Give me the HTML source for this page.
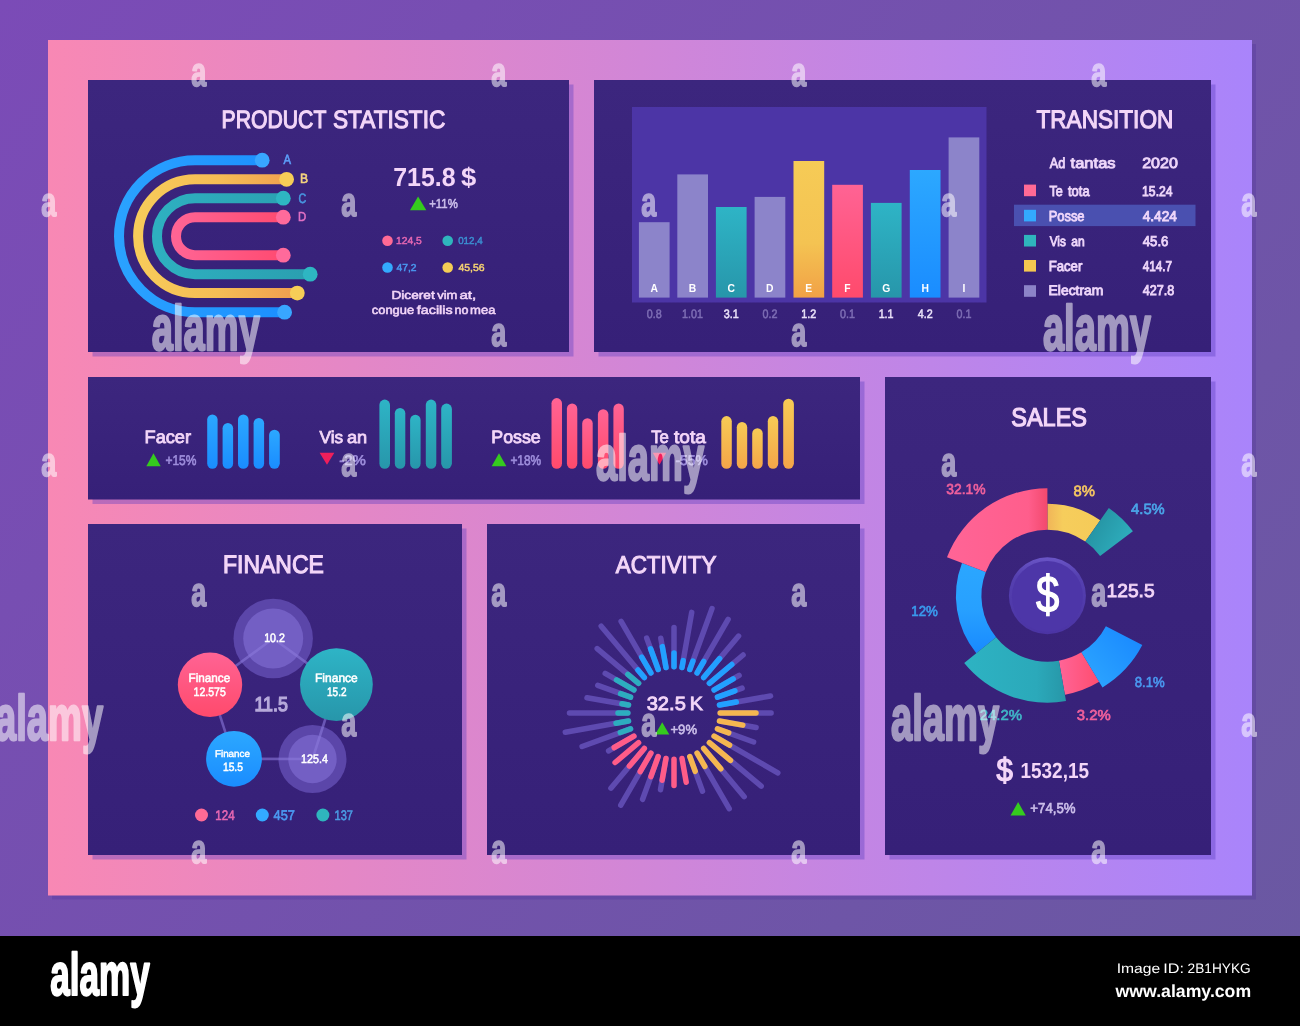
<!DOCTYPE html>
<html><head><meta charset="utf-8"><title>Dashboard</title>
<style>html,body{margin:0;padding:0;background:#000;}svg{display:block;}text{font-family:"Liberation Sans",sans-serif;white-space:pre;text-rendering:geometricPrecision;}</style>
</head><body>
<svg width="1300" height="1026" viewBox="0 0 1300 1026">
<defs>
<linearGradient id="bg" x1="0" y1="0" x2="1.139" y2="0.694"><stop offset="0" stop-color="#7B4BB7"/><stop offset="1" stop-color="#6A58A2"/></linearGradient>
<linearGradient id="frame" x1="0" y1="0" x2="1" y2="0"><stop offset="0" stop-color="#F888B4"/><stop offset="1" stop-color="#A984FB"/></linearGradient>
<linearGradient id="panel" x1="0" y1="0" x2="0" y2="1"><stop offset="0" stop-color="#3C267E"/><stop offset="1" stop-color="#362078"/></linearGradient>
<linearGradient id="gBlueV" x1="0" y1="0" x2="0" y2="1"><stop offset="0" stop-color="#2CA8FF"/><stop offset="1" stop-color="#1A8CFF"/></linearGradient>
<linearGradient id="gTealV" x1="0" y1="0" x2="0" y2="1"><stop offset="0" stop-color="#2EB4C6"/><stop offset="1" stop-color="#2796AA"/></linearGradient>
<linearGradient id="gPinkV" x1="0" y1="0" x2="0" y2="1"><stop offset="0" stop-color="#FF6394"/><stop offset="1" stop-color="#FF4A6C"/></linearGradient>
<linearGradient id="gYelV" x1="0" y1="0" x2="0" y2="1"><stop offset="0" stop-color="#F6CB56"/><stop offset="0.6" stop-color="#F4C352"/><stop offset="1" stop-color="#F1A146"/></linearGradient>
<linearGradient id="gYelV2" x1="0" y1="0" x2="0" y2="1"><stop offset="0" stop-color="#F7CB55"/><stop offset="1" stop-color="#F4A549"/></linearGradient>
<linearGradient id="gBlueH" gradientUnits="userSpaceOnUse" x1="119" y1="0" x2="290" y2="0"><stop offset="0" stop-color="#2AA2FF"/><stop offset="1" stop-color="#1B8EFF"/></linearGradient>
<linearGradient id="gYelH" gradientUnits="userSpaceOnUse" x1="138" y1="0" x2="300" y2="0"><stop offset="0" stop-color="#F7CB5A"/><stop offset="0.5" stop-color="#F5BD55"/><stop offset="1" stop-color="#F09C4F"/></linearGradient>
<linearGradient id="gTealH" gradientUnits="userSpaceOnUse" x1="157" y1="0" x2="310" y2="0"><stop offset="0" stop-color="#2EB0C0"/><stop offset="1" stop-color="#2A9FB0"/></linearGradient>
<linearGradient id="gPinkH" gradientUnits="userSpaceOnUse" x1="176" y1="0" x2="285" y2="0"><stop offset="0" stop-color="#FF6494"/><stop offset="1" stop-color="#FF4A70"/></linearGradient>
<linearGradient id="btn" x1="0" y1="0" x2="0" y2="1"><stop offset="0" stop-color="#6A55C6"/><stop offset="0.25" stop-color="#5540B0"/><stop offset="1" stop-color="#4B34A4"/></linearGradient>
</defs>
<filter id="nf" filterUnits="userSpaceOnUse" x="0" y="0" width="1300" height="1026" color-interpolation-filters="sRGB"><feOffset dx="0" dy="0"/></filter>
<g filter="url(#nf)">
<rect width="1300" height="1026" fill="url(#bg)"/>
<rect x="52" y="44" width="1204" height="855.5" fill="#4a2e9a" opacity="0.28"/>
<rect x="48" y="40" width="1204" height="855.5" fill="url(#frame)"/>
<rect x="0" y="936" width="1300" height="90" fill="#000"/>
<rect x="92.5" y="84.5" width="481" height="272" fill="#5a3cc0" opacity="0.38"/>
<rect x="598.5" y="84.5" width="617" height="272" fill="#5a3cc0" opacity="0.38"/>
<rect x="92.5" y="381.5" width="772" height="122.5" fill="#5a3cc0" opacity="0.38"/>
<rect x="92.5" y="528.5" width="374" height="331" fill="#5a3cc0" opacity="0.38"/>
<rect x="491.5" y="528.5" width="373" height="331" fill="#5a3cc0" opacity="0.38"/>
<rect x="889.5" y="381.5" width="326" height="478" fill="#5a3cc0" opacity="0.38"/>
<rect x="88" y="80" width="481" height="272" fill="url(#panel)"/>
<rect x="594" y="80" width="617" height="272" fill="url(#panel)"/>
<rect x="88" y="377" width="772" height="122.5" fill="url(#panel)"/>
<rect x="88" y="524" width="374" height="331" fill="url(#panel)"/>
<rect x="487" y="524" width="373" height="331" fill="url(#panel)"/>
<rect x="885" y="377" width="326" height="478" fill="url(#panel)"/>
<text transform="translate(221.60 128.10) scale(0.8431 1)" font-size="25.14" fill="#F3D6F8" stroke="#F3D6F8" stroke-width="1.13">PRODUCT</text>
<text transform="translate(332.98 128.10) scale(0.9006 1)" font-size="25.14" fill="#F3D6F8" stroke="#F3D6F8" stroke-width="1.13">STATISTIC</text>
<path d="M262.2 160.2 L195 160.2 A76 76 0 0 0 195 312.2 L284.6 312.2" fill="none" stroke="url(#gBlueH)" stroke-width="10"/>
<circle cx="262.2" cy="160.2" r="7.4" fill="#38A6FF"/>
<circle cx="284.6" cy="312.2" r="7.4" fill="#38A6FF"/>
<path d="M286.6 179.3 L195 179.3 A56.9 56.9 0 0 0 195 293.1 L297.3 293.1" fill="none" stroke="url(#gYelH)" stroke-width="10"/>
<circle cx="286.6" cy="179.3" r="7.4" fill="#F6CD57"/>
<circle cx="297.3" cy="293.1" r="7.4" fill="#F6CD57"/>
<path d="M283.3 198.2 L195 198.2 A38 38 0 0 0 195 274.2 L310.2 274.2" fill="none" stroke="url(#gTealH)" stroke-width="10"/>
<circle cx="283.3" cy="198.2" r="7.4" fill="#2EB6C2"/>
<circle cx="310.2" cy="274.2" r="7.4" fill="#2EB6C2"/>
<path d="M283.3 217.2 L195 217.2 A19 19 0 0 0 195 255.2 L283.3 255.2" fill="none" stroke="url(#gPinkH)" stroke-width="10"/>
<circle cx="283.3" cy="217.2" r="7.4" fill="#FF6A9B"/>
<circle cx="283.3" cy="255.2" r="7.4" fill="#FF6A9B"/>
<text transform="translate(283.50 164.00) scale(0.8459 1)" font-size="13.33" fill="#5C9EFA" stroke="#5C9EFA" stroke-width="0.60">A</text>
<text transform="translate(300.03 183.20) scale(0.9112 1)" font-size="13.33" fill="#F5D47E" stroke="#F5D47E" stroke-width="0.60">B</text>
<text transform="translate(298.46 203.00) scale(0.7891 1)" font-size="13.57" fill="#4896E0" stroke="#4896E0" stroke-width="0.61">C</text>
<text transform="translate(298.09 221.00) scale(0.8762 1)" font-size="13.04" fill="#E070C4" stroke="#E070C4" stroke-width="0.59">D</text>
<text transform="translate(393.20 186.00) scale(0.9546 1)" font-size="26.08" font-weight="bold" fill="#F3D6F8">715.8</text>
<text transform="translate(460.99 186.00) scale(1.0517 1)" font-size="26.08" font-weight="bold" fill="#F3D6F8">$</text>
<path d="M410.0 210.2 L418.1 196.5 L426.3 210.2 Z" fill="#35CB1E"/>
<text transform="translate(429.23 207.90) scale(0.8692 1)" font-size="13.09" fill="#CBBEEA" stroke="#CBBEEA" stroke-width="0.59">+11%</text>
<circle cx="387.5" cy="240.7" r="5.3" fill="#FF6A95"/>
<circle cx="447.7" cy="240.7" r="5.3" fill="#2FB5BD"/>
<circle cx="387.5" cy="267.5" r="5.3" fill="#33AAFF"/>
<circle cx="447.7" cy="267.5" r="5.3" fill="#F5CD55"/>
<text transform="translate(396.03 244.30) scale(1.0169 1)" font-size="10.14" fill="#E667B2" stroke="#E667B2" stroke-width="0.46">124,5</text>
<text transform="translate(458.21 244.30) scale(0.9616 1)" font-size="10.14" fill="#3B90D2" stroke="#3B90D2" stroke-width="0.46">012,4</text>
<text transform="translate(396.59 271.10) scale(1.0148 1)" font-size="10.14" fill="#4A98F0" stroke="#4A98F0" stroke-width="0.46">47,2</text>
<text transform="translate(458.39 271.10) scale(1.0344 1)" font-size="10.14" fill="#F5D272" stroke="#F5D272" stroke-width="0.46">45,56</text>
<text transform="translate(391.41 298.80) scale(1.1798 1)" font-size="11.59" fill="#F3D6F8" stroke="#F3D6F8" stroke-width="0.52">Diceret</text>
<text transform="translate(437.14 298.80) scale(1.1217 1)" font-size="11.59" fill="#F3D6F8" stroke="#F3D6F8" stroke-width="0.52">vim</text>
<text transform="translate(459.39 298.80) scale(1.3056 1)" font-size="11.59" fill="#F3D6F8" stroke="#F3D6F8" stroke-width="0.52">at,</text>
<text transform="translate(371.78 314.00) scale(1.0871 1)" font-size="11.86" fill="#F3D6F8" stroke="#F3D6F8" stroke-width="0.53">congue</text>
<text transform="translate(416.79 314.00) scale(1.2078 1)" font-size="11.86" fill="#F3D6F8" stroke="#F3D6F8" stroke-width="0.53">facilis</text>
<text transform="translate(454.49 314.00) scale(1.0569 1)" font-size="11.86" fill="#F3D6F8" stroke="#F3D6F8" stroke-width="0.53">no</text>
<text transform="translate(470.05 314.00) scale(1.0986 1)" font-size="11.86" fill="#F3D6F8" stroke="#F3D6F8" stroke-width="0.53">mea</text>
<rect x="632" y="107" width="354.5" height="195.5" fill="#4C35A6"/>
<rect x="638.9" y="222.2" width="30.7" height="75.4" fill="#8C84CA"/>
<text transform="translate(650.52 292.30) scale(0.8927 1)" font-size="11.59" font-weight="bold" fill="#FFFFFF">A</text>
<text transform="translate(646.79 318.20) scale(0.8739 1)" font-size="12.29" fill="#7D6DB4" stroke="#7D6DB4" stroke-width="0.55">0.8</text>
<rect x="677.3" y="174.4" width="30.7" height="123.2" fill="#8C84CA"/>
<text transform="translate(688.82 292.30) scale(0.8927 1)" font-size="11.59" font-weight="bold" fill="#FFFFFF">B</text>
<text transform="translate(682.05 318.20) scale(0.8739 1)" font-size="12.29" fill="#7D6DB4" stroke="#7D6DB4" stroke-width="0.55">1.01</text>
<rect x="715.9" y="207" width="30.7" height="90.6" fill="url(#gTealV)"/>
<text transform="translate(727.45 292.30) scale(0.9056 1)" font-size="11.43" font-weight="bold" fill="#FFFFFF">C</text>
<text transform="translate(723.82 318.20) scale(0.8739 1)" font-size="12.29" fill="#E9E0F8" stroke="#E9E0F8" stroke-width="0.55">3.1</text>
<rect x="754.6" y="196.9" width="30.7" height="100.7" fill="#8C84CA"/>
<text transform="translate(766.09 292.30) scale(0.8927 1)" font-size="11.59" font-weight="bold" fill="#FFFFFF">D</text>
<text transform="translate(762.54 318.20) scale(0.8739 1)" font-size="12.29" fill="#7D6DB4" stroke="#7D6DB4" stroke-width="0.55">0.2</text>
<rect x="793.5" y="161" width="30.7" height="136.6" fill="url(#gYelV)"/>
<text transform="translate(805.25 292.30) scale(0.8927 1)" font-size="11.59" font-weight="bold" fill="#FFFFFF">E</text>
<text transform="translate(801.25 318.20) scale(0.8739 1)" font-size="12.29" fill="#E9E0F8" stroke="#E9E0F8" stroke-width="0.55">1.2</text>
<rect x="832.2" y="184.8" width="30.7" height="112.8" fill="url(#gPinkV)"/>
<text transform="translate(844.24 292.30) scale(0.8927 1)" font-size="11.59" font-weight="bold" fill="#FFFFFF">F</text>
<text transform="translate(840.12 318.20) scale(0.8739 1)" font-size="12.29" fill="#7D6DB4" stroke="#7D6DB4" stroke-width="0.55">0.1</text>
<rect x="870.9" y="202.9" width="30.7" height="94.7" fill="url(#gTealV)"/>
<text transform="translate(882.34 292.30) scale(0.9056 1)" font-size="11.43" font-weight="bold" fill="#FFFFFF">G</text>
<text transform="translate(878.63 318.20) scale(0.8614 1)" font-size="12.46" fill="#E9E0F8" stroke="#E9E0F8" stroke-width="0.56">1.1</text>
<rect x="909.8" y="170" width="30.7" height="127.6" fill="url(#gBlueV)"/>
<text transform="translate(921.42 292.30) scale(0.8927 1)" font-size="11.59" font-weight="bold" fill="#FFFFFF">H</text>
<text transform="translate(917.85 318.20) scale(0.8739 1)" font-size="12.29" fill="#E9E0F8" stroke="#E9E0F8" stroke-width="0.55">4.2</text>
<rect x="948.6" y="137.4" width="30.7" height="160.2" fill="#8C84CA"/>
<text transform="translate(962.53 292.30) scale(0.8927 1)" font-size="11.59" font-weight="bold" fill="#FFFFFF">I</text>
<text transform="translate(956.52 318.20) scale(0.8739 1)" font-size="12.29" fill="#7D6DB4" stroke="#7D6DB4" stroke-width="0.55">0.1</text>
<text transform="translate(1036.45 128.20) scale(0.8889 1)" font-size="25.43" fill="#F3D6F8" stroke="#F3D6F8" stroke-width="1.14">TRANSITION</text>
<text transform="translate(1049.70 167.60) scale(0.8565 1)" font-size="14.76" fill="#EED6FA" stroke="#EED6FA" stroke-width="0.85">Ad</text>
<text transform="translate(1070.55 167.60) scale(1.1221 1)" font-size="14.76" fill="#EED6FA" stroke="#EED6FA" stroke-width="0.85">tantas</text>
<text transform="translate(1142.20 167.60) scale(1.0788 1)" font-size="14.86" fill="#EED6FA" stroke="#EED6FA" stroke-width="0.85">2020</text>
<rect x="1014" y="204.7" width="181.5" height="21.4" fill="#4A50B0"/>
<rect x="1024" y="184.6" width="12" height="11.6" fill="#FF6A95"/>
<text transform="translate(1049.45 196.10) scale(0.8712 1)" font-size="14.49" fill="#EED6FA" stroke="#EED6FA" stroke-width="0.85">Te</text>
<text transform="translate(1068.01 196.10) scale(0.8949 1)" font-size="14.49" fill="#EED6FA" stroke="#EED6FA" stroke-width="0.85">tota</text>
<text transform="translate(1142.09 196.10) scale(0.8621 1)" font-size="14.14" fill="#EED6FA" stroke="#EED6FA" stroke-width="0.85">15.24</text>
<rect x="1024" y="209.8" width="12" height="11.6" fill="#33AAFF"/>
<text transform="translate(1048.67 220.90) scale(0.8914 1)" font-size="14.49" fill="#EED6FA" stroke="#EED6FA" stroke-width="0.85">Posse</text>
<text transform="translate(1142.73 220.90) scale(0.9668 1)" font-size="14.14" fill="#EED6FA" stroke="#EED6FA" stroke-width="0.85">4.424</text>
<rect x="1024" y="234.9" width="12" height="11.6" fill="#2FB5BD"/>
<text transform="translate(1049.64 245.70) scale(0.8558 1)" font-size="13.79" fill="#EED6FA" stroke="#EED6FA" stroke-width="0.85">Vis</text>
<text transform="translate(1071.31 245.70) scale(0.8801 1)" font-size="13.79" fill="#EED6FA" stroke="#EED6FA" stroke-width="0.85">an</text>
<text transform="translate(1142.74 245.70) scale(0.9340 1)" font-size="14.14" fill="#EED6FA" stroke="#EED6FA" stroke-width="0.85">45.6</text>
<rect x="1024" y="260.0" width="12" height="11.6" fill="#F5C850"/>
<text transform="translate(1048.65 270.50) scale(0.9088 1)" font-size="14.49" fill="#EED6FA" stroke="#EED6FA" stroke-width="0.85">Facer</text>
<text transform="translate(1142.77 270.50) scale(0.8174 1)" font-size="14.35" fill="#EED6FA" stroke="#EED6FA" stroke-width="0.85">414.7</text>
<rect x="1024" y="285.2" width="12" height="11.6" fill="#8C84C8"/>
<text transform="translate(1048.59 295.30) scale(1.0074 1)" font-size="13.79" fill="#EED6FA" stroke="#EED6FA" stroke-width="0.85">Electram</text>
<text transform="translate(1142.75 295.30) scale(0.8896 1)" font-size="14.14" fill="#EED6FA" stroke="#EED6FA" stroke-width="0.85">427.8</text>
<text transform="translate(144.54 443.20) scale(1.0134 1)" font-size="17.97" fill="#F3D6F8" stroke="#F3D6F8" stroke-width="0.81">Facer</text>
<path d="M146.3 466.3 L153.5 453.3 L160.7 466.3 Z" fill="#35CB1E"/>
<text transform="translate(165.40 464.80) scale(0.8510 1)" font-size="14.10" fill="#9E8EDC" stroke="#9E8EDC" stroke-width="0.63">+15%</text>
<rect x="207.2" y="414.4" width="10.4" height="54.3" rx="5.20" fill="url(#gBlueV)"/>
<rect x="222.6" y="422.9" width="10.5" height="45.8" rx="5.25" fill="url(#gBlueV)"/>
<rect x="238.0" y="414.4" width="10.6" height="54.3" rx="5.30" fill="url(#gBlueV)"/>
<rect x="253.6" y="418.0" width="10.5" height="50.7" rx="5.25" fill="url(#gBlueV)"/>
<rect x="269.1" y="429.7" width="10.7" height="39.0" rx="5.35" fill="url(#gBlueV)"/>
<text transform="translate(319.51 443.20) scale(1.0067 1)" font-size="17.10" fill="#F3D6F8" stroke="#F3D6F8" stroke-width="0.77">Vis</text>
<text transform="translate(346.97 443.20) scale(1.0646 1)" font-size="17.10" fill="#F3D6F8" stroke="#F3D6F8" stroke-width="0.77">an</text>
<path d="M319.6 452.7 L334.3 452.7 L327.0 464.8 Z" fill="#F01F5B"/>
<text transform="translate(339.33 464.80) scale(1.0672 1)" font-size="14.00" fill="#9E8EDC" stroke="#9E8EDC" stroke-width="0.63">-2%</text>
<rect x="379.4" y="399.6" width="10.6" height="69.1" rx="5.30" fill="url(#gTealV)"/>
<rect x="394.8" y="407.9" width="10.5" height="60.8" rx="5.25" fill="url(#gTealV)"/>
<rect x="410.1" y="414.8" width="10.5" height="53.9" rx="5.25" fill="url(#gTealV)"/>
<rect x="425.8" y="399.6" width="10.5" height="69.1" rx="5.25" fill="url(#gTealV)"/>
<rect x="441.2" y="403.6" width="10.7" height="65.1" rx="5.35" fill="url(#gTealV)"/>
<text transform="translate(491.27 443.20) scale(0.9913 1)" font-size="17.97" fill="#F3D6F8" stroke="#F3D6F8" stroke-width="0.81">Posse</text>
<path d="M491.7 466.3 L499.0 453.3 L506.4 466.3 Z" fill="#35CB1E"/>
<text transform="translate(510.40 464.80) scale(0.8514 1)" font-size="14.00" fill="#9E8EDC" stroke="#9E8EDC" stroke-width="0.63">+18%</text>
<rect x="551.5" y="398.1" width="10.5" height="70.6" rx="5.25" fill="url(#gPinkV)"/>
<rect x="566.9" y="403.6" width="10.4" height="65.1" rx="5.20" fill="url(#gPinkV)"/>
<rect x="582.2" y="418.3" width="10.5" height="50.4" rx="5.25" fill="url(#gPinkV)"/>
<rect x="597.9" y="409.2" width="10.5" height="59.5" rx="5.25" fill="url(#gPinkV)"/>
<rect x="613.4" y="403.6" width="10.4" height="65.1" rx="5.20" fill="url(#gPinkV)"/>
<text transform="translate(651.16 443.20) scale(0.9330 1)" font-size="17.97" fill="#F3D6F8" stroke="#F3D6F8" stroke-width="0.81">Te</text>
<text transform="translate(674.01 443.20) scale(1.0623 1)" font-size="17.97" fill="#F3D6F8" stroke="#F3D6F8" stroke-width="0.81">tota</text>
<path d="M652.8 452.7 L666.2 452.7 L659.5 464.8 Z" fill="#F01F5B"/>
<text transform="translate(675.38 464.80) scale(0.9844 1)" font-size="14.10" fill="#9E8EDC" stroke="#9E8EDC" stroke-width="0.63">-55%</text>
<rect x="721.3" y="416.1" width="10.5" height="52.6" rx="5.25" fill="url(#gYelV2)"/>
<rect x="736.8" y="422.0" width="10.4" height="46.7" rx="5.20" fill="url(#gYelV2)"/>
<rect x="752.2" y="428.2" width="10.5" height="40.5" rx="5.25" fill="url(#gYelV2)"/>
<rect x="767.8" y="416.1" width="10.4" height="52.6" rx="5.20" fill="url(#gYelV2)"/>
<rect x="783.2" y="398.7" width="10.7" height="70.0" rx="5.35" fill="url(#gYelV2)"/>
<text transform="translate(223.06 573.00) scale(0.9027 1)" font-size="25.43" fill="#F3D6F8" stroke="#F3D6F8" stroke-width="1.14">FINANCE</text>
<circle cx="273.2" cy="638.5" r="39.7" fill="#5B46A9"/>
<circle cx="312.5" cy="759" r="34" fill="#5B46A9"/>
<circle cx="273.2" cy="638.5" r="30" fill="#735FC4"/>
<circle cx="312.5" cy="759" r="24.2" fill="#735FC4"/>
<line x1="273.2" y1="638.5" x2="210" y2="684.8" stroke="#8B78DA" stroke-opacity="0.6" stroke-width="2.6"/>
<line x1="273.2" y1="638.5" x2="336.4" y2="684.6" stroke="#8B78DA" stroke-opacity="0.6" stroke-width="2.6"/>
<line x1="210" y1="684.8" x2="234" y2="758.8" stroke="#8B78DA" stroke-opacity="0.6" stroke-width="2.6"/>
<line x1="336.4" y1="684.6" x2="312.5" y2="759" stroke="#8B78DA" stroke-opacity="0.6" stroke-width="2.6"/>
<line x1="234" y1="758.8" x2="312.5" y2="759" stroke="#8B78DA" stroke-opacity="0.6" stroke-width="2.6"/>
<circle cx="210" cy="684.8" r="32.2" fill="url(#gPinkV)"/>
<circle cx="336.4" cy="684.6" r="36.4" fill="url(#gTealV)"/>
<circle cx="234" cy="758.8" r="27.9" fill="url(#gBlueV)"/>
<text transform="translate(264.20 642.20) scale(0.8631 1)" font-size="12.29" fill="#FFFFFF" stroke="#FFFFFF" stroke-width="0.55">10.2</text>
<text transform="translate(188.46 681.80) scale(0.9680 1)" font-size="12.14" fill="#FFFFFF" stroke="#FFFFFF" stroke-width="0.55">Finance</text>
<text transform="translate(193.51 696.40) scale(0.8596 1)" font-size="12.29" fill="#FFFFFF" stroke="#FFFFFF" stroke-width="0.55">12.575</text>
<text transform="translate(315.04 681.80) scale(0.9896 1)" font-size="12.14" fill="#FFFFFF" stroke="#FFFFFF" stroke-width="0.55">Finance</text>
<text transform="translate(327.05 696.40) scale(0.8140 1)" font-size="12.29" fill="#FFFFFF" stroke="#FFFFFF" stroke-width="0.55">15.2</text>
<text transform="translate(214.91 756.90) scale(1.0092 1)" font-size="9.79" fill="#FFFFFF" stroke="#FFFFFF" stroke-width="0.44">Finance</text>
<text transform="translate(222.93 771.40) scale(0.8645 1)" font-size="11.88" fill="#FFFFFF" stroke="#FFFFFF" stroke-width="0.53">15.5</text>
<text transform="translate(301.10 762.90) scale(0.8734 1)" font-size="12.29" fill="#FFFFFF" stroke="#FFFFFF" stroke-width="0.55">125.4</text>
<text transform="translate(254.46 710.80) scale(0.8790 1)" font-size="20.29" fill="#B6A9DA" stroke="#B6A9DA" stroke-width="1.30">11.5</text>
<circle cx="201.5" cy="815" r="6.5" fill="#FF6A95"/>
<circle cx="262.3" cy="815" r="6.5" fill="#33AAFF"/>
<circle cx="322.9" cy="815" r="6.5" fill="#2FB5BD"/>
<text transform="translate(215.33 819.60) scale(0.8327 1)" font-size="13.86" fill="#E667B2" stroke="#E667B2" stroke-width="0.62">124</text>
<text transform="translate(273.54 819.60) scale(0.9098 1)" font-size="14.06" fill="#4A98F0" stroke="#4A98F0" stroke-width="0.63">457</text>
<text transform="translate(334.58 819.60) scale(0.7919 1)" font-size="13.86" fill="#4A9AE2" stroke="#4A9AE2" stroke-width="0.62">137</text>
<text transform="translate(615.70 573.00) scale(0.9165 1)" font-size="24.43" fill="#F3D6F8" stroke="#F3D6F8" stroke-width="1.10">ACTIVITY</text>
<line x1="720.2" y1="713.0" x2="771.1" y2="713.0" stroke="#5E4AB0" stroke-width="5.5" stroke-linecap="round"/>
<line x1="719.5" y1="705.0" x2="770.5" y2="696.0" stroke="#5E4AB0" stroke-width="5.5" stroke-linecap="round"/>
<line x1="717.5" y1="697.2" x2="742.1" y2="688.2" stroke="#5E4AB0" stroke-width="5.5" stroke-linecap="round"/>
<line x1="714.1" y1="689.9" x2="739.1" y2="675.4" stroke="#5E4AB0" stroke-width="5.5" stroke-linecap="round"/>
<line x1="709.4" y1="683.3" x2="743.1" y2="655.0" stroke="#5E4AB0" stroke-width="5.5" stroke-linecap="round"/>
<line x1="703.7" y1="677.6" x2="738.6" y2="636.1" stroke="#5E4AB0" stroke-width="5.5" stroke-linecap="round"/>
<line x1="697.1" y1="672.9" x2="728.1" y2="619.3" stroke="#5E4AB0" stroke-width="5.5" stroke-linecap="round"/>
<line x1="689.8" y1="669.5" x2="712.0" y2="608.6" stroke="#5E4AB0" stroke-width="5.5" stroke-linecap="round"/>
<line x1="682.0" y1="667.5" x2="691.7" y2="612.4" stroke="#5E4AB0" stroke-width="5.5" stroke-linecap="round"/>
<line x1="674.0" y1="666.8" x2="674.0" y2="627.5" stroke="#5E4AB0" stroke-width="5.5" stroke-linecap="round"/>
<line x1="666.0" y1="667.5" x2="660.8" y2="638.3" stroke="#5E4AB0" stroke-width="5.5" stroke-linecap="round"/>
<line x1="658.2" y1="669.5" x2="646.7" y2="638.1" stroke="#5E4AB0" stroke-width="5.5" stroke-linecap="round"/>
<line x1="650.9" y1="672.9" x2="621.1" y2="621.4" stroke="#5E4AB0" stroke-width="5.5" stroke-linecap="round"/>
<line x1="644.3" y1="677.6" x2="601.2" y2="626.2" stroke="#5E4AB0" stroke-width="5.5" stroke-linecap="round"/>
<line x1="638.6" y1="683.3" x2="597.2" y2="648.6" stroke="#5E4AB0" stroke-width="5.5" stroke-linecap="round"/>
<line x1="633.9" y1="689.9" x2="605.2" y2="673.3" stroke="#5E4AB0" stroke-width="5.5" stroke-linecap="round"/>
<line x1="630.5" y1="697.2" x2="597.8" y2="685.3" stroke="#5E4AB0" stroke-width="5.5" stroke-linecap="round"/>
<line x1="628.5" y1="705.0" x2="587.0" y2="697.7" stroke="#5E4AB0" stroke-width="5.5" stroke-linecap="round"/>
<line x1="627.8" y1="713.0" x2="569.5" y2="713.0" stroke="#5E4AB0" stroke-width="5.5" stroke-linecap="round"/>
<line x1="628.5" y1="721.0" x2="565.3" y2="732.2" stroke="#5E4AB0" stroke-width="5.5" stroke-linecap="round"/>
<line x1="630.5" y1="728.8" x2="582.1" y2="746.5" stroke="#5E4AB0" stroke-width="5.5" stroke-linecap="round"/>
<line x1="633.9" y1="736.1" x2="608.6" y2="750.8" stroke="#5E4AB0" stroke-width="5.5" stroke-linecap="round"/>
<line x1="644.3" y1="748.4" x2="610.9" y2="788.2" stroke="#5E4AB0" stroke-width="5.5" stroke-linecap="round"/>
<line x1="650.9" y1="753.1" x2="620.8" y2="805.2" stroke="#5E4AB0" stroke-width="5.5" stroke-linecap="round"/>
<line x1="658.2" y1="756.5" x2="642.6" y2="799.3" stroke="#5E4AB0" stroke-width="5.5" stroke-linecap="round"/>
<line x1="666.0" y1="758.5" x2="660.5" y2="789.8" stroke="#5E4AB0" stroke-width="5.5" stroke-linecap="round"/>
<line x1="689.8" y1="756.5" x2="702.5" y2="791.2" stroke="#5E4AB0" stroke-width="5.5" stroke-linecap="round"/>
<line x1="697.1" y1="753.1" x2="729.2" y2="808.7" stroke="#5E4AB0" stroke-width="5.5" stroke-linecap="round"/>
<line x1="703.7" y1="748.4" x2="744.2" y2="796.7" stroke="#5E4AB0" stroke-width="5.5" stroke-linecap="round"/>
<line x1="709.4" y1="742.7" x2="761.2" y2="786.2" stroke="#5E4AB0" stroke-width="5.5" stroke-linecap="round"/>
<line x1="714.1" y1="736.1" x2="777.8" y2="772.9" stroke="#5E4AB0" stroke-width="5.5" stroke-linecap="round"/>
<line x1="717.5" y1="728.8" x2="753.6" y2="742.0" stroke="#5E4AB0" stroke-width="5.5" stroke-linecap="round"/>
<line x1="719.5" y1="721.0" x2="756.1" y2="727.5" stroke="#5E4AB0" stroke-width="5.5" stroke-linecap="round"/>
<line x1="720.2" y1="713.0" x2="756.0" y2="713.0" stroke="#F5B650" stroke-width="5.5" stroke-linecap="round"/>
<line x1="719.5" y1="705.0" x2="736.3" y2="702.0" stroke="#22A0FF" stroke-width="5.5" stroke-linecap="round"/>
<line x1="717.5" y1="697.2" x2="734.9" y2="690.8" stroke="#22A0FF" stroke-width="5.5" stroke-linecap="round"/>
<line x1="714.1" y1="689.9" x2="733.2" y2="678.8" stroke="#22A0FF" stroke-width="5.5" stroke-linecap="round"/>
<line x1="709.4" y1="683.3" x2="731.8" y2="664.5" stroke="#22A0FF" stroke-width="5.5" stroke-linecap="round"/>
<line x1="703.7" y1="677.6" x2="719.6" y2="658.6" stroke="#22A0FF" stroke-width="5.5" stroke-linecap="round"/>
<line x1="697.1" y1="672.9" x2="703.7" y2="661.5" stroke="#22A0FF" stroke-width="5.5" stroke-linecap="round"/>
<line x1="689.8" y1="669.5" x2="692.9" y2="661.1" stroke="#22A0FF" stroke-width="5.5" stroke-linecap="round"/>
<line x1="682.0" y1="667.5" x2="683.2" y2="660.6" stroke="#22A0FF" stroke-width="5.5" stroke-linecap="round"/>
<line x1="674.0" y1="666.8" x2="674.0" y2="653.0" stroke="#22A0FF" stroke-width="5.5" stroke-linecap="round"/>
<line x1="666.0" y1="667.5" x2="662.3" y2="646.6" stroke="#22A0FF" stroke-width="5.5" stroke-linecap="round"/>
<line x1="658.2" y1="669.5" x2="650.6" y2="648.8" stroke="#22A0FF" stroke-width="5.5" stroke-linecap="round"/>
<line x1="650.9" y1="672.9" x2="641.7" y2="657.1" stroke="#22A0FF" stroke-width="5.5" stroke-linecap="round"/>
<line x1="644.3" y1="677.6" x2="637.9" y2="670.0" stroke="#22A0FF" stroke-width="5.5" stroke-linecap="round"/>
<line x1="638.6" y1="683.3" x2="627.9" y2="674.3" stroke="#2DADBF" stroke-width="5.5" stroke-linecap="round"/>
<line x1="633.9" y1="689.9" x2="616.5" y2="679.8" stroke="#2DADBF" stroke-width="5.5" stroke-linecap="round"/>
<line x1="630.5" y1="697.2" x2="620.6" y2="693.6" stroke="#2DADBF" stroke-width="5.5" stroke-linecap="round"/>
<line x1="628.5" y1="705.0" x2="621.9" y2="703.8" stroke="#2DADBF" stroke-width="5.5" stroke-linecap="round"/>
<line x1="627.8" y1="713.0" x2="618.0" y2="713.0" stroke="#2DADBF" stroke-width="5.5" stroke-linecap="round"/>
<line x1="628.5" y1="721.0" x2="616.0" y2="723.2" stroke="#2DADBF" stroke-width="5.5" stroke-linecap="round"/>
<line x1="630.5" y1="728.8" x2="620.3" y2="732.5" stroke="#2DADBF" stroke-width="5.5" stroke-linecap="round"/>
<line x1="633.9" y1="736.1" x2="614.2" y2="747.5" stroke="#FF5C88" stroke-width="5.5" stroke-linecap="round"/>
<line x1="638.6" y1="742.7" x2="615.1" y2="762.5" stroke="#FF5C88" stroke-width="5.5" stroke-linecap="round"/>
<line x1="644.3" y1="748.4" x2="629.4" y2="766.1" stroke="#FF5C88" stroke-width="5.5" stroke-linecap="round"/>
<line x1="650.9" y1="753.1" x2="640.2" y2="771.5" stroke="#FF5C88" stroke-width="5.5" stroke-linecap="round"/>
<line x1="658.2" y1="756.5" x2="650.9" y2="776.6" stroke="#FF5C88" stroke-width="5.5" stroke-linecap="round"/>
<line x1="666.0" y1="758.5" x2="662.1" y2="780.3" stroke="#FF5C88" stroke-width="5.5" stroke-linecap="round"/>
<line x1="674.0" y1="759.2" x2="674.0" y2="785.4" stroke="#FF5C88" stroke-width="5.5" stroke-linecap="round"/>
<line x1="682.0" y1="758.5" x2="686.2" y2="782.3" stroke="#FF5C88" stroke-width="5.5" stroke-linecap="round"/>
<line x1="689.8" y1="756.5" x2="695.2" y2="771.3" stroke="#F5B650" stroke-width="5.5" stroke-linecap="round"/>
<line x1="697.1" y1="753.1" x2="704.8" y2="766.4" stroke="#F5B650" stroke-width="5.5" stroke-linecap="round"/>
<line x1="703.7" y1="748.4" x2="720.8" y2="768.8" stroke="#F5B650" stroke-width="5.5" stroke-linecap="round"/>
<line x1="709.4" y1="742.7" x2="730.5" y2="760.4" stroke="#F5B650" stroke-width="5.5" stroke-linecap="round"/>
<line x1="714.1" y1="736.1" x2="729.6" y2="745.1" stroke="#F5B650" stroke-width="5.5" stroke-linecap="round"/>
<line x1="717.5" y1="728.8" x2="728.7" y2="732.9" stroke="#F5B650" stroke-width="5.5" stroke-linecap="round"/>
<line x1="719.5" y1="721.0" x2="742.8" y2="725.1" stroke="#F5B650" stroke-width="5.5" stroke-linecap="round"/>
<text transform="translate(646.70 710.40) scale(1.0504 1)" font-size="19.14" fill="#F3D6F8" stroke="#F3D6F8" stroke-width="0.86">32.5</text>
<text transform="translate(689.63 710.40) scale(1.0266 1)" font-size="19.14" fill="#F3D6F8" stroke="#F3D6F8" stroke-width="0.86">K</text>
<path d="M655.2 734.4 L662.2 722.3 L669.3 734.4 Z" fill="#35CB1E"/>
<text transform="translate(670.44 733.90) scale(0.9763 1)" font-size="13.43" fill="#CBBEEA" stroke="#CBBEEA" stroke-width="0.60">+9%</text>
<text transform="translate(1011.24 426.00) scale(0.9144 1)" font-size="25.71" fill="#F3D6F8" stroke="#F3D6F8" stroke-width="1.16">SALES</text>
<defs>
<linearGradient id="wPink" gradientUnits="userSpaceOnUse" x1="950" y1="0" x2="1048" y2="0"><stop offset="0" stop-color="#FF6496"/><stop offset="0.8" stop-color="#FF5E8C"/><stop offset="1" stop-color="#F2486C"/></linearGradient>
<linearGradient id="wYel" gradientUnits="userSpaceOnUse" x1="1047" y1="0" x2="1100" y2="0"><stop offset="0" stop-color="#F0B458"/><stop offset="0.3" stop-color="#F6CD5C"/><stop offset="1" stop-color="#F5CB58"/></linearGradient>
<linearGradient id="wTeal1" gradientUnits="userSpaceOnUse" x1="1085" y1="520" x2="1130" y2="545"><stop offset="0" stop-color="#238E9E"/><stop offset="1" stop-color="#2FB0BF"/></linearGradient>
<linearGradient id="wBlue1" gradientUnits="userSpaceOnUse" x1="0" y1="560" x2="0" y2="660"><stop offset="0" stop-color="#2BA7FF"/><stop offset="0.5" stop-color="#27A0FF"/><stop offset="1" stop-color="#1686FF"/></linearGradient>
<linearGradient id="wTeal2" gradientUnits="userSpaceOnUse" x1="970" y1="0" x2="1065" y2="0"><stop offset="0" stop-color="#2DB2C2"/><stop offset="0.7" stop-color="#2BA9BA"/><stop offset="1" stop-color="#2797A8"/></linearGradient>
<linearGradient id="wPink2" gradientUnits="userSpaceOnUse" x1="1060" y1="0" x2="1100" y2="0"><stop offset="0" stop-color="#FF6496"/><stop offset="1" stop-color="#FF4C6E"/></linearGradient>
<linearGradient id="wBlue2" gradientUnits="userSpaceOnUse" x1="1085" y1="690" x2="1140" y2="640"><stop offset="0" stop-color="#2EA8FF"/><stop offset="1" stop-color="#1A8AFF"/></linearGradient>
</defs>
<path d="M985.8 572.0 L962.0 562.9 A91.5 91.5 0 0 0 976.3 653.3 L996.1 637.2 A66 66 0 0 1 985.8 572.0 Z" fill="url(#wBlue1)"/>
<path d="M1085.3 541.6 L1100.2 520.3 A92 92 0 0 0 1047.4 503.7 L1047.4 529.7 A66 66 0 0 1 1085.3 541.6 Z" fill="url(#wYel)"/>
<path d="M1047.4 529.7 L1047.4 488.2 A107.5 107.5 0 0 0 947.0 557.2 L985.8 572.0 A66 66 0 0 1 1047.4 529.7 Z" fill="url(#wPink)"/>
<path d="M1100.1 556.0 L1132.9 531.3 A107 107 0 0 0 1108.8 508.1 L1085.3 541.6 A66 66 0 0 1 1100.1 556.0 Z" fill="url(#wTeal1)"/>
<path d="M1058.9 660.7 L1064.9 694.7 A100.5 100.5 0 0 0 1099.2 681.8 L1081.4 652.3 A66 66 0 0 1 1058.9 660.7 Z" fill="url(#wPink2)"/>
<path d="M996.1 637.2 L964.2 663.0 A107 107 0 0 0 1066.0 701.1 L1058.9 660.7 A66 66 0 0 1 996.1 637.2 Z" fill="url(#wTeal2)"/>
<path d="M1081.4 652.3 L1102.5 687.4 A107 107 0 0 0 1142.3 645.1 L1105.9 626.2 A66 66 0 0 1 1081.4 652.3 Z" fill="url(#wBlue2)"/>
<circle cx="1047.4" cy="595.7" r="38.5" fill="url(#btn)"/>
<circle cx="1047.4" cy="596.5" r="35.5" fill="#4D36A8"/>
<text transform="translate(1036.08 612.10) scale(0.8072 1)" font-size="51.89" fill="#FFFFFF" stroke="#FFFFFF" stroke-width="1.30">$</text>
<text transform="translate(1106.56 597.30) scale(1.0261 1)" font-size="18.71" fill="#F3D6F8" stroke="#F3D6F8" stroke-width="0.84">125.5</text>
<text transform="translate(946.34 494.10) scale(0.9618 1)" font-size="14.43" fill="#F0609C" stroke="#F0609C" stroke-width="0.65">32.1%</text>
<text transform="translate(1073.43 495.50) scale(0.9961 1)" font-size="14.86" fill="#F5C662" stroke="#F5C662" stroke-width="0.67">8%</text>
<text transform="translate(1131.11 514.00) scale(0.9947 1)" font-size="14.82" fill="#4AA4E8" stroke="#4AA4E8" stroke-width="0.67">4.5%</text>
<text transform="translate(911.30 616.10) scale(0.9204 1)" font-size="14.43" fill="#3A9AEE" stroke="#3A9AEE" stroke-width="0.65">12%</text>
<text transform="translate(1134.71 687.10) scale(0.9104 1)" font-size="14.43" fill="#4A98F0" stroke="#4A98F0" stroke-width="0.65">8.1%</text>
<text transform="translate(1076.80 719.80) scale(1.0310 1)" font-size="14.43" fill="#F0609C" stroke="#F0609C" stroke-width="0.65">3.2%</text>
<text transform="translate(979.75 719.80) scale(1.0333 1)" font-size="14.43" fill="#40B4C6" stroke="#40B4C6" stroke-width="0.65">24.2%</text>
<text transform="translate(996.41 781.30) scale(0.9075 1)" font-size="32.43" fill="#F3D6F8" stroke="#F3D6F8" stroke-width="1.30">$</text>
<text transform="translate(1020.46 778.10) scale(0.8671 1)" font-size="21.86" font-weight="bold" fill="#F3D6F8">1532,15</text>
<path d="M1010.5 815.5 L1018.1 802.0 L1025.8 815.5 Z" fill="#35CB1E"/>
<text transform="translate(1030.34 813.40) scale(0.9211 1)" font-size="14.39" fill="#CBBEEA" stroke="#CBBEEA" stroke-width="0.65">+74,5%</text>
<g opacity="0.54" font-weight="bold" fill="#fff" stroke="#fff" stroke-linejoin="round">
<g font-size="41" stroke-width="1.6">
<text transform="translate(191.2 86.0) scale(0.66 1)">a</text>
<text transform="translate(191.2 606.0) scale(0.66 1)">a</text>
<text transform="translate(191.2 863.0) scale(0.66 1)">a</text>
<text transform="translate(491.2 86.0) scale(0.66 1)">a</text>
<text transform="translate(491.2 606.0) scale(0.66 1)">a</text>
<text transform="translate(491.2 863.0) scale(0.66 1)">a</text>
<text transform="translate(791.2 86.0) scale(0.66 1)">a</text>
<text transform="translate(791.2 606.0) scale(0.66 1)">a</text>
<text transform="translate(791.2 863.0) scale(0.66 1)">a</text>
<text transform="translate(1091.2 86.0) scale(0.66 1)">a</text>
<text transform="translate(1091.2 606.0) scale(0.66 1)">a</text>
<text transform="translate(1091.2 863.0) scale(0.66 1)">a</text>
<text transform="translate(41.2 216.0) scale(0.66 1)">a</text>
<text transform="translate(341.2 216.0) scale(0.66 1)">a</text>
<text transform="translate(641.2 216.0) scale(0.66 1)">a</text>
<text transform="translate(941.2 216.0) scale(0.66 1)">a</text>
<text transform="translate(1241.2 216.0) scale(0.66 1)">a</text>
<text transform="translate(41.2 476.0) scale(0.66 1)">a</text>
<text transform="translate(341.2 476.0) scale(0.66 1)">a</text>
<text transform="translate(941.2 476.0) scale(0.66 1)">a</text>
<text transform="translate(1241.2 476.0) scale(0.66 1)">a</text>
<text transform="translate(341.2 736.0) scale(0.66 1)">a</text>
<text transform="translate(641.2 736.0) scale(0.66 1)">a</text>
<text transform="translate(1241.2 736.0) scale(0.66 1)">a</text>
<text transform="translate(491.2 346.0) scale(0.66 1)">a</text>
<text transform="translate(791.2 346.0) scale(0.66 1)">a</text>
</g>
<g font-size="63.6" stroke-width="2.4">
<text transform="translate(151.8 350.1) scale(0.6 1)">alamy</text>
<text transform="translate(1042.9 350.2) scale(0.6 1)">alamy</text>
<text transform="translate(596.0 480.3) scale(0.6 1)">alamy</text>
<text transform="translate(-5.0 740.3) scale(0.6 1)">alamy</text>
<text transform="translate(891.0 740.3) scale(0.6 1)">alamy</text>
</g>
</g>
<g><text transform="translate(50.2 994.5) scale(0.59 1)" font-size="59.5" font-weight="bold" fill="#fff" stroke="#fff" stroke-width="2.2" stroke-linejoin="round">alamy</text></g>
<g>
<text transform="translate(1116.69 972.80) scale(1.1413 1)" font-size="13.71" fill="#FFFFFF">Image</text>
<text transform="translate(1163.14 972.80) scale(1.1853 1)" font-size="13.71" fill="#FFFFFF">ID:</text>
<text transform="translate(1187.62 972.80) scale(0.9971 1)" font-size="13.71" fill="#FFFFFF">2B1HYKG</text>
<text transform="translate(1115.59 996.50) scale(1.0090 1)" font-size="17.52" font-weight="bold" fill="#FFFFFF">www.alamy.com</text>
</g>
</g>
</svg></body></html>
